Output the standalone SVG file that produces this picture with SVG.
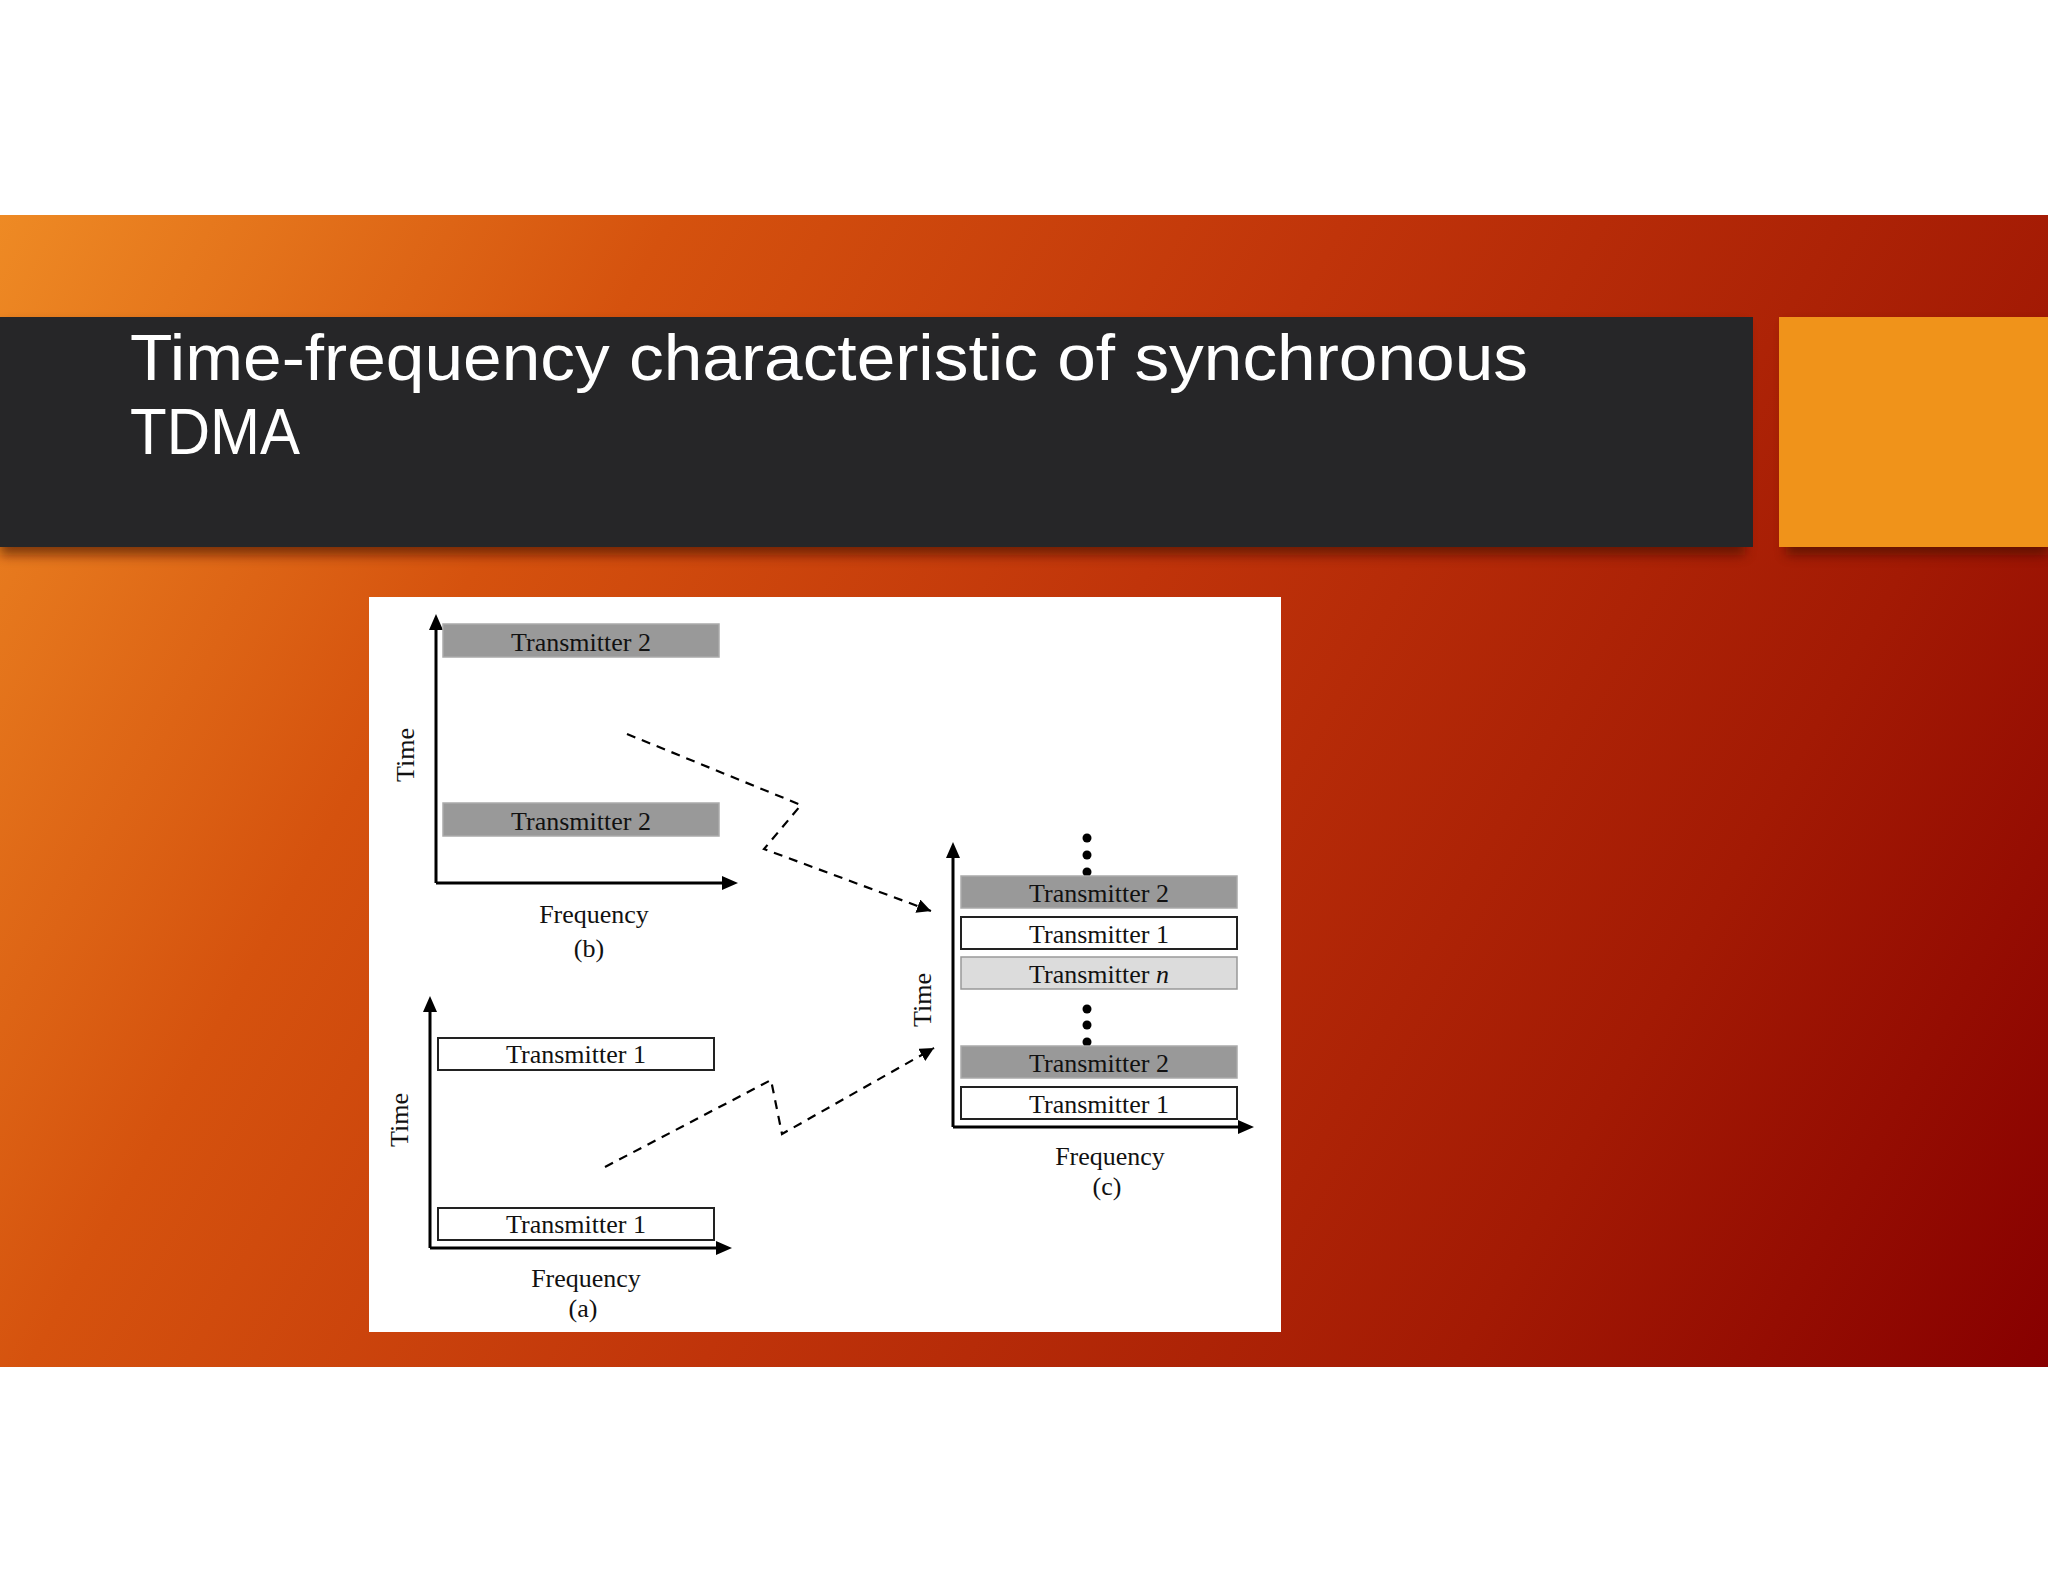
<svg xmlns="http://www.w3.org/2000/svg" width="2048" height="1582" viewBox="0 0 2048 1582">
<defs>
<linearGradient id="bg" gradientUnits="userSpaceOnUse" x1="0" y1="215" x2="2048" y2="1366">
<stop offset="0" stop-color="#EE8A24"/>
<stop offset="0.25" stop-color="#D5520E"/>
<stop offset="0.5" stop-color="#C0340A"/>
<stop offset="0.78" stop-color="#A31A04"/>
<stop offset="1" stop-color="#870000"/>
</linearGradient>
<filter id="sh" x="-5%" y="-20%" width="110%" height="140%">
<feGaussianBlur stdDeviation="6"/>
</filter>
<marker id="ah" viewBox="0 0 10 10" refX="10" refY="5" markerWidth="14" markerHeight="14" markerUnits="userSpaceOnUse" orient="auto">
<path d="M0,0 L10,5 L0,10 Z" fill="#000"/>
</marker>
</defs>
<style>
.lbl{font-family:"Liberation Serif","Times New Roman",serif;font-size:26px;fill:#111;text-anchor:middle}
.axis{stroke:#000;stroke-width:3;fill:none}
.dash{stroke:#000;stroke-width:2.2;fill:none;stroke-dasharray:9 7}
.g2{fill:#999999;stroke:#aaaaaa;stroke-width:1.5}
.g1{fill:#ffffff;stroke:#222222;stroke-width:2}
.gn{fill:#dcdcdc;stroke:#999999;stroke-width:1.5}
.title{font-family:"Liberation Sans",Arial,sans-serif;font-size:64px;fill:#ffffff}
</style>
<rect x="0" y="0" width="2048" height="1582" fill="#ffffff"/>
<rect x="0" y="215" width="2048" height="1152" fill="url(#bg)"/>
<g id="title-bar">
<rect x="0" y="325" width="1745" height="230" fill="#3a0a00" opacity="0.6" filter="url(#sh)"/>
<rect x="0" y="317" width="1753" height="230" fill="#262628"/>
<text class="title"><tspan x="130" y="380" textLength="1398" lengthAdjust="spacingAndGlyphs">Time-frequency characteristic of synchronous</tspan><tspan x="130" y="454" textLength="170" lengthAdjust="spacingAndGlyphs">TDMA</tspan></text>
</g>
<g id="accent-square">
<rect x="1786" y="325" width="262" height="230" fill="#3a0a00" opacity="0.6" filter="url(#sh)"/>
<rect x="1779" y="317" width="269" height="230" fill="#F0931A"/>
</g>
<rect id="figure-panel" x="369" y="597" width="912" height="735" fill="#ffffff"/>

<g id="panel-b">
<path class="axis" d="M436,883 L436,622 M436,883 L730,883"/>
<path d="M436,614 L429,630 L443,630 Z M738,883 L722,876 L722,890 Z" fill="#000"/>
<text class="lbl" x="408" y="755" transform="rotate(-90 408 755)" dominant-baseline="middle">Time</text>
<text class="lbl" x="594" y="923">Frequency</text>
<text class="lbl" x="589" y="957">(b)</text>
</g>
<g id="b-tx2-top"><rect class="g2" x="443" y="624" width="276" height="33"/><text class="lbl" x="581" y="651">Transmitter 2</text></g>
<g id="b-tx2-bottom"><rect class="g2" x="443" y="803" width="276" height="33"/><text class="lbl" x="581" y="830">Transmitter 2</text></g>

<g id="panel-a">
<path class="axis" d="M430,1248 L430,1004 M430,1248 L724,1248"/>
<path d="M430,996 L423,1012 L437,1012 Z M732,1248 L716,1241 L716,1255 Z" fill="#000"/>
<text class="lbl" x="402" y="1120" transform="rotate(-90 402 1120)" dominant-baseline="middle">Time</text>
<text class="lbl" x="586" y="1287">Frequency</text>
<text class="lbl" x="583" y="1317">(a)</text>
</g>
<g id="a-tx1-top"><rect class="g1" x="438" y="1038" width="276" height="32"/><text class="lbl" x="576" y="1063">Transmitter 1</text></g>
<g id="a-tx1-bottom"><rect class="g1" x="438" y="1208" width="276" height="32"/><text class="lbl" x="576" y="1233">Transmitter 1</text></g>

<g id="panel-c">
<path class="axis" d="M953,1127 L953,850 M953,1127 L1246,1127"/>
<path d="M953,842 L946,858 L960,858 Z M1254,1127 L1238,1120 L1238,1134 Z" fill="#000"/>
<text class="lbl" x="925" y="1000" transform="rotate(-90 925 1000)" dominant-baseline="middle">Time</text>
<text class="lbl" x="1110" y="1165">Frequency</text>
<text class="lbl" x="1107" y="1195">(c)</text>
<g fill="#000">
<circle cx="1087" cy="838" r="4.5"/><circle cx="1087" cy="855" r="4.5"/><circle cx="1087" cy="872" r="4.5"/>
<circle cx="1087" cy="1009" r="4.5"/><circle cx="1087" cy="1025" r="4.5"/><circle cx="1087" cy="1042" r="4.5"/>
</g>
</g>
<g id="c-tx2-top"><rect class="g2" x="961" y="876" width="276" height="32"/><text class="lbl" x="1099" y="902">Transmitter 2</text></g>
<g id="c-tx1-top"><rect class="g1" x="961" y="917" width="276" height="32"/><text class="lbl" x="1099" y="943">Transmitter 1</text></g>
<g id="c-txn"><rect class="gn" x="961" y="957" width="276" height="32"/><text class="lbl" x="1099" y="983">Transmitter <tspan font-style="italic">n</tspan></text></g>
<g id="c-tx2-bottom"><rect class="g2" x="961" y="1046" width="276" height="32"/><text class="lbl" x="1099" y="1072">Transmitter 2</text></g>
<g id="c-tx1-bottom"><rect class="g1" x="961" y="1087" width="276" height="32"/><text class="lbl" x="1099" y="1113">Transmitter 1</text></g>

<g id="connectors">
<path class="dash" d="M627,734 L801,805 L764,849 L931,911" marker-end="url(#ah)"/>
<path class="dash" d="M605,1167 L771,1080 L782,1134 L934,1048" marker-end="url(#ah)"/>
</g>
</svg>
